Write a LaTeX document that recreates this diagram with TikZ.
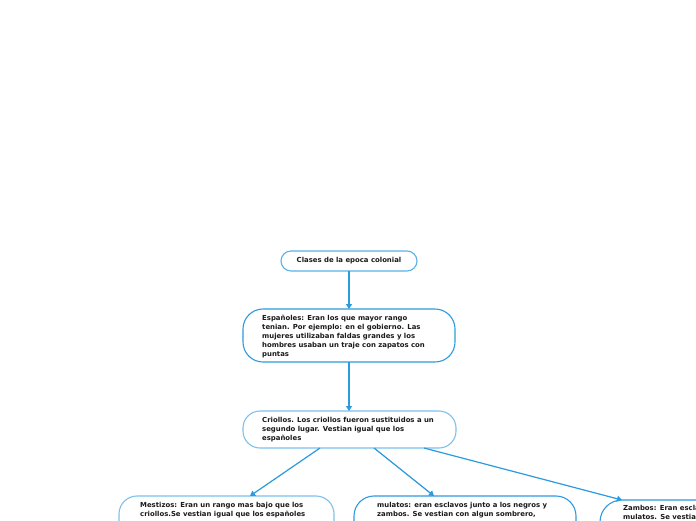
\documentclass[tikz,border=0pt]{standalone}
\usepackage{fontspec}
\setmainfont{DejaVu Sans}
\usetikzlibrary{arrows.meta}
\definecolor{bordA}{HTML}{5AB2E6}
\definecolor{bordB}{HTML}{2E9BE0}
\definecolor{bordC}{HTML}{7CC2EE}
\definecolor{arr}{HTML}{2A9BDF}
\definecolor{txt}{HTML}{1A1A1A}
\tikzset{
  box/.style={draw=#1, line width=1.1pt, fill=white},
  lbl/.style={anchor=north west, inner sep=0pt, align=left, text=txt,
    font=\fontsize{6.9}{9}\selectfont\bfseries},
  conn/.style={draw=arr, line width=1.2pt, -{Triangle[length=5pt,width=6pt]}}
}
\begin{document}
\begin{tikzpicture}[x=1pt,y=-1pt]
\useasboundingbox (0,0) rectangle (696,520);
\clip (0,0) rectangle (696,520);
\fill[white] (0,0) rectangle (696,520);
% boxes
\draw[box=bordA, rounded corners=10pt] (281,251) rectangle (417,271);
\node[lbl, anchor=center] (t1) at (349,261) {Clases de la epoca colonial};
\coordinate (b1) at (349,271);
\coordinate (c2t) at (349,309);
\draw[box=bordB, rounded corners=20pt] (243,309) rectangle (455,362);
\node[lbl] (t2) at (262,314.5) {Españoles: Eran los que mayor rango\\tenian. Por ejemplo: en el gobierno. Las\\mujeres utilizaban faldas grandes y los\\hombres usaban un traje con zapatos con\\puntas};
\coordinate (c2b) at (349,362);
\coordinate (c3t) at (349,411);
\draw[box=bordC, rounded corners=17pt] (243,411) rectangle (456,448);
\node[lbl] (t3) at (262,417.5) {Criollos. Los criollos fueron sustituidos a un\\segundo lugar. Vestian igual que los\\españoles};
\coordinate (c3a) at (320,448);
\coordinate (c3b) at (374,448);
\coordinate (c3c) at (424,448);
\draw[box=bordC, rounded corners=18pt] (119,496) rectangle (334,540);
\node[lbl] (t4) at (140,502.5) {Mestizos: Eran un rango mas bajo que los\\criollos.Se vestian igual que los españoles};
\coordinate (c4t) at (250,496);
\draw[box=bordB, rounded corners=20pt] (354,496) rectangle (576,545);
\node[lbl] (t5) at (377,502.5) {mulatos: eran esclavos junto a los negros y\\zambos. Se vestian con algun sombrero,};
\coordinate (c5t) at (434,496);
\draw[box=bordB, rounded corners=22pt] (600,500) rectangle (760,560);
\node[lbl] (t6) at (623,505.5) {Zambos: Eran esclavos\\mulatos. Se vestian};
\coordinate (c6t) at (622,500);
% connectors
\draw[conn] (b1) -- (c2t);
\draw[conn] (c2b) -- (c3t);
\draw[conn] (c3a) -- (c4t);
\draw[conn] (c3b) -- (c5t);
\draw[conn] (c3c) -- (c6t);
\end{tikzpicture}
\end{document}
